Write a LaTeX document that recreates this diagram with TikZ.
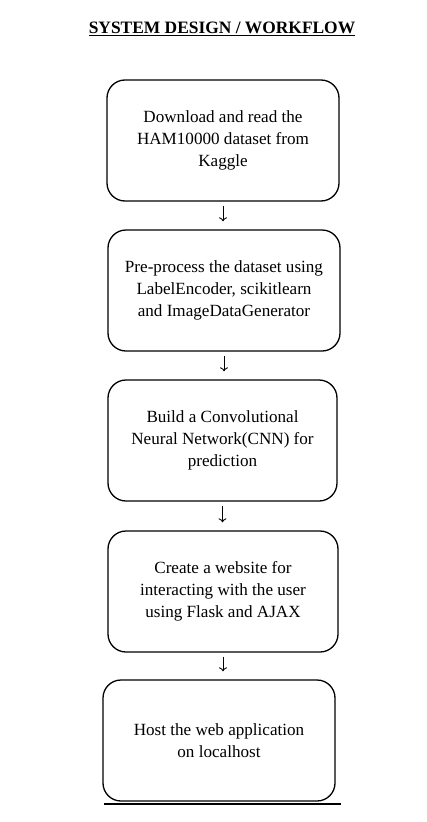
\documentclass[tikz,border=0pt]{standalone}
\usepackage{fontspec}
\setmainfont{Liberation Serif}
\usetikzlibrary{arrows.meta}

\begin{document}
\begin{tikzpicture}[x=1pt,y=-1pt,
	stepbox/.style={draw,line width=1.3pt,rounded corners=18pt,minimum height=121pt,
		align=center,inner sep=0pt,font=\fontsize{17.1}{21.8}\selectfont},
	flow/.style={line width=0.9pt,-{To[length=4pt,width=8pt]},shorten <=4pt,shorten >=8pt}]
	\useasboundingbox (0,0) rectangle (427,822);
	\coordinate (P1) at (223,140.5);
	\coordinate (P2) at (224,290.5);
	\coordinate (P3) at (222.5,440.5);
	\coordinate (P4) at (223,591.5);
	\coordinate (P5) at (219,740.5);
	\node (title) at (222,29) {\fontsize{17.4}{20}\selectfont\bfseries\underline{SYSTEM DESIGN / WORKFLOW}};
	\node[stepbox,minimum width=232pt] (B1) at (P1) {Download and read the\\HAM10000 dataset from\\Kaggle};
	\node[stepbox,minimum width=232pt] (B2) at (P2) {Pre-process the dataset using\\LabelEncoder, scikitlearn\\and ImageDataGenerator};
	\node[stepbox,minimum width=229pt] (B3) at (P3) {Build a Convolutional\\Neural Network(CNN) for\\prediction};
	\node[stepbox,minimum width=230pt] (B4) at (P4) {Create a website for\\interacting with the user\\using Flask and AJAX};
	\node[stepbox,minimum width=232pt] (B5) at (P5) {Host the web application\\on localhost};
	\draw[flow] (B1.south) -- (B1.south |- B2.north);
	\draw[flow] (B2.south) -- (B2.south |- B3.north);
	\draw[flow] (B3.south) -- (B3.south |- B4.north);
	\draw[flow] (B4.south) -- (B4.south |- B5.north);
	\coordinate (L1) at (104,804);
	\coordinate (L2) at (341,804);
	\draw[line width=2.2pt] (L1) -- (L2);
\end{tikzpicture}
\end{document}
